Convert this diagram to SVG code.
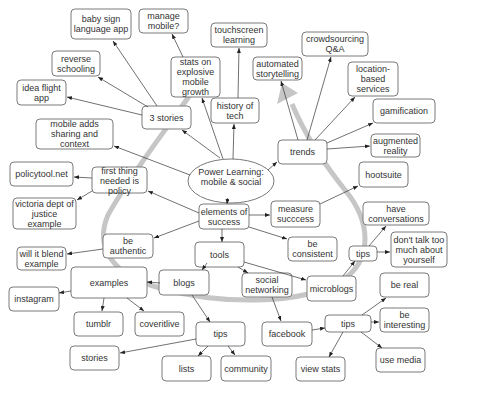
<svg xmlns="http://www.w3.org/2000/svg" width="480" height="413" viewBox="0 0 480 413">
<defs>
<style>
.n rect{fill:#fff;stroke:#7a7a7a;stroke-width:1}
.n ellipse{fill:#fff;stroke:#7a7a7a;stroke-width:1}
text{font-family:"Liberation Sans",Arial,sans-serif;font-size:9px;fill:#333;text-anchor:middle}
.c line{stroke:#333;stroke-width:0.7;marker-end:url(#a)}
.flow{fill:none;stroke:#c6c6c6;stroke-width:5}
</style>
<marker id="a" markerUnits="userSpaceOnUse" markerWidth="5" markerHeight="4" refX="5" refY="2" orient="auto"><path d="M0,0 L5,2 L0,4 z" fill="#222"/></marker>
</defs>
<rect width="480" height="413" fill="#fff"/>
<g id="flow">
<path class="flow" d="M196,86 C170,125 130,175 108,215 C95,245 110,275 160,288 C220,305 300,305 340,282 C375,260 370,220 345,190 C325,165 305,135 292,104"/>
<polygon points="282,83 277,104 298,93" fill="#c6c6c6"/>
</g>
<g id="nodes">
<g id="center" class="n"><ellipse cx="231" cy="181" rx="43" ry="22"/><text x="231" y="175">Power Learning:</text><text x="231" y="185">mobile &amp; social</text></g>
<g id="baby" class="n"><rect x="71" y="9" width="60" height="30" rx="4"/><text x="101" y="22.2">baby sign</text><text x="101" y="32.2">language app</text></g>
<g id="manage" class="n"><rect x="139" y="9" width="49" height="24" rx="4"/><text x="163.5" y="19.2">manage</text><text x="163.5" y="29.2">mobile?</text></g>
<g id="touch" class="n"><rect x="211" y="23" width="56" height="24" rx="4"/><text x="239" y="33.2">touchscreen</text><text x="239" y="43.2">learning</text></g>
<g id="reverse" class="n"><rect x="52" y="51" width="48" height="25" rx="4"/><text x="76" y="61.7">reverse</text><text x="76" y="71.7">schooling</text></g>
<g id="stats" class="n"><rect x="171" y="57" width="49" height="40" rx="4"/><text x="195.5" y="65.2">stats on</text><text x="195.5" y="75.2">explosive</text><text x="195.5" y="85.2">mobile</text><text x="195.5" y="95.2">growth</text></g>
<g id="idea" class="n"><rect x="17" y="80" width="49" height="25" rx="4"/><text x="41.5" y="90.7">idea flight</text><text x="41.5" y="100.7">app</text></g>
<g id="stories3" class="n"><rect x="142" y="106" width="49" height="23" rx="4"/><text x="166.5" y="120.7">3 stories</text></g>
<g id="history" class="n"><rect x="211" y="98" width="48" height="25" rx="4"/><text x="235" y="108.7">history of</text><text x="235" y="118.7">tech</text></g>
<g id="mobileadds" class="n"><rect x="36" y="119" width="77" height="30" rx="4"/><text x="74.5" y="127.2">mobile adds</text><text x="74.5" y="137.2">sharing and</text><text x="74.5" y="147.2">context</text></g>
<g id="crowd" class="n"><rect x="302" y="32" width="66" height="24" rx="4"/><text x="335" y="42.2">crowdsourcing</text><text x="335" y="52.2">Q&amp;A</text></g>
<g id="auto" class="n"><rect x="253" y="57" width="49" height="23" rx="4"/><text x="277.5" y="66.7">automated</text><text x="277.5" y="76.7">storytelling</text></g>
<g id="location" class="n"><rect x="348" y="62" width="50" height="34" rx="4"/><text x="373" y="72.2">location-</text><text x="373" y="82.2">based</text><text x="373" y="92.2">services</text></g>
<g id="gamification" class="n"><rect x="373" y="99" width="62" height="24" rx="4"/><text x="404" y="114.2">gamification</text></g>
<g id="augmented" class="n"><rect x="371" y="134" width="49" height="23" rx="4"/><text x="395.5" y="143.7">augmented</text><text x="395.5" y="153.7">reality</text></g>
<g id="trends" class="n"><rect x="278" y="140" width="49" height="24" rx="4"/><text x="302.5" y="155.2">trends</text></g>
<g id="hootsuite" class="n"><rect x="359" y="162" width="49" height="25" rx="4"/><text x="383.5" y="177.7">hootsuite</text></g>
<g id="measure" class="n"><rect x="271" y="201" width="49" height="26" rx="4"/><text x="295.5" y="212.2">measure</text><text x="295.5" y="222.2">succcess</text></g>
<g id="haveconv" class="n"><rect x="363" y="202" width="66" height="23" rx="4"/><text x="396" y="211.7">have</text><text x="396" y="221.7">conversations</text></g>
<g id="consistent" class="n"><rect x="288" y="237" width="49" height="24" rx="4"/><text x="312.5" y="247.2">be</text><text x="312.5" y="257.2">consistent</text></g>
<g id="tips-mb" class="n"><rect x="349" y="246" width="28" height="15" rx="4"/><text x="363" y="257">tips</text></g>
<g id="donttalk" class="n"><rect x="391" y="232" width="56" height="35" rx="4"/><text x="419" y="242.7">don't talk too</text><text x="419" y="252.7">much about</text><text x="419" y="262.7">yourself</text></g>
<g id="policytool" class="n"><rect x="10" y="162" width="63" height="24" rx="4"/><text x="41.5" y="177.2">policytool.net</text></g>
<g id="firstthing" class="n"><rect x="92" y="167" width="55" height="26" rx="4"/><text x="119.5" y="174">first thing</text><text x="119.5" y="184">needed is</text><text x="119.5" y="194">policy</text></g>
<g id="victoria" class="n"><rect x="13" y="198" width="63" height="31" rx="4"/><text x="44.5" y="206.7">victoria dept of</text><text x="44.5" y="216.7">justice</text><text x="44.5" y="226.7">example</text></g>
<g id="elements" class="n"><rect x="199" y="204" width="50" height="25" rx="4"/><text x="224" y="214.7">elements of</text><text x="224" y="224.7">success</text></g>
<g id="authentic" class="n"><rect x="103" y="234" width="50" height="24" rx="4"/><text x="128" y="244.2">be</text><text x="128" y="254.2">authentic</text></g>
<g id="blend" class="n"><rect x="17" y="247" width="49" height="23" rx="4"/><text x="41.5" y="256.7">will it blend</text><text x="41.5" y="266.7">example</text></g>
<g id="tools" class="n"><rect x="195" y="242" width="49" height="25" rx="4"/><text x="219.5" y="257.7">tools</text></g>
<g id="blogs" class="n"><rect x="159" y="270" width="50" height="25" rx="4"/><text x="184" y="285.7">blogs</text></g>
<g id="social" class="n"><rect x="242" y="273" width="50" height="24" rx="4"/><text x="267" y="283.2">social</text><text x="267" y="293.2">networking</text></g>
<g id="microblogs" class="n"><rect x="307" y="276" width="49" height="25" rx="4"/><text x="331.5" y="291.7">microblogs</text></g>
<g id="examples" class="n"><rect x="71" y="267" width="76" height="31" rx="4"/><text x="109" y="285.7">examples</text></g>
<g id="instagram" class="n"><rect x="9" y="287" width="50" height="24" rx="4"/><text x="34" y="302.2">instagram</text></g>
<g id="tumblr" class="n"><rect x="74" y="312" width="49" height="24" rx="4"/><text x="98.5" y="327.2">tumblr</text></g>
<g id="coveritlive" class="n"><rect x="135" y="312" width="49" height="24" rx="4"/><text x="159.5" y="327.2">coveritlive</text></g>
<g id="tips-blog" class="n"><rect x="196" y="322" width="49" height="24" rx="4"/><text x="220.5" y="337.2">tips</text></g>
<g id="stories" class="n"><rect x="70" y="346" width="49" height="24" rx="4"/><text x="94.5" y="361.2">stories</text></g>
<g id="lists" class="n"><rect x="162" y="356" width="49" height="25" rx="4"/><text x="186.5" y="371.7">lists</text></g>
<g id="community" class="n"><rect x="221" y="356" width="50" height="25" rx="4"/><text x="246" y="371.7">community</text></g>
<g id="facebook" class="n"><rect x="262" y="322" width="50" height="24" rx="4"/><text x="287" y="337.2">facebook</text></g>
<g id="tips-fb" class="n"><rect x="325" y="315" width="46" height="17" rx="4"/><text x="348" y="327">tips</text></g>
<g id="bereal" class="n"><rect x="380" y="273" width="49" height="24" rx="4"/><text x="404.5" y="288.2">be real</text></g>
<g id="interesting" class="n"><rect x="380" y="308" width="49" height="24" rx="4"/><text x="404.5" y="318.2">be</text><text x="404.5" y="328.2">interesting</text></g>
<g id="usemedia" class="n"><rect x="376" y="348" width="49" height="24" rx="4"/><text x="400.5" y="363.2">use media</text></g>
<g id="viewstats" class="n"><rect x="296" y="357" width="49" height="24" rx="4"/><text x="320.5" y="372.2">view stats</text></g>
</g>
<g id="connectors" class="c">
<line x1="220" y1="158" x2="182" y2="130"/>
<line x1="223" y1="159" x2="202" y2="98"/>
<line x1="233" y1="159" x2="234" y2="124"/>
<line x1="268" y1="170" x2="277" y2="162"/>
<line x1="190" y1="175" x2="114" y2="146"/>
<line x1="227.6" y1="198" x2="227" y2="204"/>
<line x1="157" y1="106" x2="113" y2="41"/>
<line x1="148" y1="107" x2="98" y2="77"/>
<line x1="142" y1="115" x2="67" y2="97"/>
<line x1="183" y1="57" x2="172" y2="34"/>
<line x1="238" y1="98" x2="239" y2="48"/>
<line x1="298" y1="140" x2="281" y2="81"/>
<line x1="307" y1="140" x2="331" y2="57"/>
<line x1="315" y1="140" x2="355" y2="97"/>
<line x1="327" y1="143" x2="373" y2="123"/>
<line x1="327" y1="149" x2="370" y2="146"/>
<line x1="199" y1="213" x2="148" y2="191"/>
<line x1="199" y1="221" x2="154" y2="238"/>
<line x1="249" y1="215" x2="270" y2="215"/>
<line x1="249" y1="227" x2="287" y2="239"/>
<line x1="222" y1="229" x2="222" y2="242"/>
<line x1="92" y1="178" x2="74" y2="177"/>
<line x1="92" y1="191" x2="77" y2="200"/>
<line x1="103" y1="249" x2="67" y2="254"/>
<line x1="320" y1="204" x2="358" y2="186"/>
<line x1="207" y1="263" x2="202" y2="270"/>
<line x1="238" y1="267" x2="248" y2="273"/>
<line x1="244" y1="262" x2="306" y2="280"/>
<line x1="343" y1="276" x2="355" y2="261"/>
<line x1="369" y1="246" x2="386" y2="226"/>
<line x1="377" y1="252" x2="390" y2="252"/>
<line x1="160" y1="283" x2="147" y2="282"/>
<line x1="192" y1="295" x2="210" y2="322"/>
<line x1="71" y1="291" x2="59" y2="293"/>
<line x1="104" y1="298" x2="102" y2="311"/>
<line x1="127" y1="298" x2="144" y2="311"/>
<line x1="196" y1="339" x2="120" y2="353"/>
<line x1="208" y1="346" x2="198" y2="356"/>
<line x1="228" y1="346" x2="235" y2="355"/>
<line x1="272" y1="297" x2="281" y2="321"/>
<line x1="312" y1="330" x2="325" y2="328"/>
<line x1="362" y1="315" x2="386" y2="298"/>
<line x1="371" y1="322" x2="379" y2="322"/>
<line x1="361" y1="332" x2="382" y2="348"/>
<line x1="343" y1="332" x2="329" y2="357"/>
</g>
</svg>
